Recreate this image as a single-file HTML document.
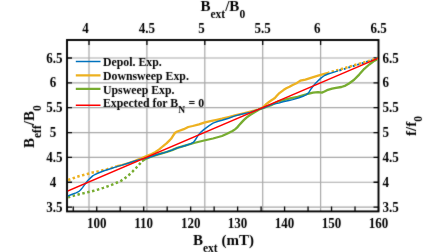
<!DOCTYPE html><html><head><meta charset="utf-8"><style>html,body{margin:0;padding:0;background:#fff;}svg{display:block;}text{font-family:"Liberation Serif", "Times New Roman", serif;font-weight:bold;fill:#000;}</style></head><body>
<svg width="448" height="252" viewBox="0 0 448 252">
<defs><filter id="bl" filterUnits="userSpaceOnUse" x="-10" y="-10" width="468" height="272" color-interpolation-filters="sRGB"><feConvolveMatrix order="3" kernelMatrix="0.03 0.1 0.03 0.1 1 0.1 0.03 0.1 0.03" edgeMode="duplicate" preserveAlpha="true"/></filter></defs>
<g filter="url(#bl)">
<rect x="-10" y="-10" width="468" height="272" fill="#fff"/>
<path d="M89.00 40.0V211.4M146.90 40.0V211.4M204.80 40.0V211.4M262.70 40.0V211.4M320.60 40.0V211.4M67.0 207.10H378.5M67.0 182.25H378.5M67.0 157.40H378.5M67.0 132.55H378.5M67.0 107.70H378.5M67.0 82.85H378.5M67.0 58.00H378.5" stroke="#a8a8a8" stroke-width="1.2" fill="none"/>
<path d="M67.0 207.10h5.0M378.5 207.10h-5.0M67.0 182.25h5.0M378.5 182.25h-5.0M67.0 157.40h5.0M378.5 157.40h-5.0M67.0 132.55h5.0M378.5 132.55h-5.0M67.0 107.70h5.0M378.5 107.70h-5.0M67.0 82.85h5.0M378.5 82.85h-5.0M67.0 58.00h5.0M378.5 58.00h-5.0M89.00 40.0v5.0M146.90 40.0v5.0M204.80 40.0v5.0M262.70 40.0v5.0M320.60 40.0v5.0M73.26 211.4v-5.0M96.74 211.4v-5.0M120.22 211.4v-5.0M143.70 211.4v-5.0M167.18 211.4v-5.0M190.66 211.4v-5.0M214.14 211.4v-5.0M237.62 211.4v-5.0M261.10 211.4v-5.0M284.58 211.4v-5.0M308.06 211.4v-5.0M331.54 211.4v-5.0M355.02 211.4v-5.0M378.50 211.4v-5.0" stroke="#000" stroke-width="1.3" fill="none"/>
<rect x="67.0" y="40.0" width="311.5" height="171.4" fill="none" stroke="#000" stroke-width="1.9"/>
<text transform="translate(85.60 32.5) scale(1 1.07)" font-size="13" text-anchor="middle">4</text>
<text transform="translate(146.90 32.5) scale(1 1.07)" font-size="13" text-anchor="middle">4.5</text>
<text transform="translate(201.40 32.5) scale(1 1.07)" font-size="13" text-anchor="middle">5</text>
<text transform="translate(262.70 32.5) scale(1 1.07)" font-size="13" text-anchor="middle">5.5</text>
<text transform="translate(317.20 32.5) scale(1 1.07)" font-size="13" text-anchor="middle">6</text>
<text transform="translate(378.50 32.5) scale(1 1.07)" font-size="13" text-anchor="middle">6.5</text>
<text transform="translate(96.74 228.4) scale(1 1.07)" font-size="13" text-anchor="middle">100</text>
<text transform="translate(143.70 228.4) scale(1 1.07)" font-size="13" text-anchor="middle">110</text>
<text transform="translate(190.66 228.4) scale(1 1.07)" font-size="13" text-anchor="middle">120</text>
<text transform="translate(237.62 228.4) scale(1 1.07)" font-size="13" text-anchor="middle">130</text>
<text transform="translate(284.58 228.4) scale(1 1.07)" font-size="13" text-anchor="middle">140</text>
<text transform="translate(331.54 228.4) scale(1 1.07)" font-size="13" text-anchor="middle">150</text>
<text transform="translate(378.50 228.4) scale(1 1.07)" font-size="13" text-anchor="middle">160</text>
<text transform="translate(62.50 211.70) scale(1 1.07)" font-size="13" text-anchor="end">3.5</text>
<text transform="translate(382.5 211.70) scale(1 1.07)" font-size="13">3.5</text>
<text transform="translate(56.30 186.85) scale(1 1.07)" font-size="13" text-anchor="end">4</text>
<text transform="translate(382.5 186.85) scale(1 1.07)" font-size="13">4</text>
<text transform="translate(62.50 162.00) scale(1 1.07)" font-size="13" text-anchor="end">4.5</text>
<text transform="translate(382.5 162.00) scale(1 1.07)" font-size="13">4.5</text>
<text transform="translate(56.30 137.15) scale(1 1.07)" font-size="13" text-anchor="end">5</text>
<text transform="translate(382.5 137.15) scale(1 1.07)" font-size="13">5</text>
<text transform="translate(62.50 112.30) scale(1 1.07)" font-size="13" text-anchor="end">5.5</text>
<text transform="translate(382.5 112.30) scale(1 1.07)" font-size="13">5.5</text>
<text transform="translate(56.30 87.45) scale(1 1.07)" font-size="13" text-anchor="end">6</text>
<text transform="translate(382.5 87.45) scale(1 1.07)" font-size="13">6</text>
<text transform="translate(62.50 62.60) scale(1 1.07)" font-size="13" text-anchor="end">6.5</text>
<text transform="translate(382.5 62.60) scale(1 1.07)" font-size="13">6.5</text>
<text x="200.5" y="11" font-size="15">B<tspan font-size="11.5" dy="6.5">ext</tspan><tspan dy="-6.5">/B</tspan><tspan font-size="11.5" dy="6.5">0</tspan></text>
<text x="193" y="245.2" font-size="15">B<tspan font-size="11.5" dy="6.5">ext</tspan><tspan dy="-6.5"> (mT)</tspan></text>
<text transform="translate(34.3 148) rotate(-90)" font-size="15">B<tspan font-size="11.5" dy="6.5">eff</tspan><tspan dy="-6.5">/B</tspan><tspan font-size="11.5" dy="6.5">0</tspan></text>
<text transform="translate(415.5 136) rotate(-90)" font-size="15">f/f<tspan font-size="11.5" dy="6.5">0</tspan></text>
<text x="103.0" y="66.10" font-size="11.8">Depol. Exp.</text>
<text x="103.0" y="79.80" font-size="11.8">Downsweep Exp.</text>
<text x="103.0" y="93.50" font-size="11.8">Upsweep Exp.</text>
<text x="103.0" y="107.20" font-size="11.8">Expected for B<tspan font-size="9.5" dy="6">N</tspan><tspan dy="-6" dx="0.6"> = 0</tspan></text>
</g>
<clipPath id="cp"><rect x="67.9" y="40.9" width="309.7" height="169.6"/></clipPath>
<g clip-path="url(#cp)" >
<polyline points="67.5,180.2 73.9,178.0 78.7,176.3 83.5,175.0 88.2,173.7 92.9,172.4 97.7,171.5 102.8,170.2 107.3,169.1 112.0,167.8 117.0,166.3" fill="none" stroke="#EDB120" stroke-width="2.5" stroke-dasharray="2.5 2.43" stroke-dashoffset="-0.5"/>
<polyline points="68.0,197.3 74.0,195.6 79.1,194.3 84.2,193.1 88.7,192.0 93.7,190.8 98.2,189.5 103.3,187.9 107.7,186.3 112.8,184.4 117.2,182.5 121.0,180.8 124.5,178.6 128.5,175.4 132.5,171.6 136.0,168.0 139.5,164.2 142.0,161.2" fill="none" stroke="#77AC30" stroke-width="2.5" stroke-dasharray="2.5 2.5" stroke-dashoffset="0.2"/>
<polyline points="338.0,70.9 378.0,58.3" fill="none" stroke="#0072BD" stroke-width="2.0" stroke-dasharray="2.3 2.4" stroke-dashoffset="-1.35"/>
<polyline points="328.3,72.8 378.0,58.3" fill="none" stroke="#EDB120" stroke-width="2.5" stroke-dasharray="2.4 2.3" stroke-dashoffset="1.2"/>
<polyline points="117.0,166.2 122.0,165.0 128.7,163.0 135.0,160.8 141.4,158.3 146.5,156.0 151.6,154.0 155.5,152.0 159.2,149.4 162.0,147.0 164.3,145.1 166.5,143.4 169.3,140.6 171.1,138.8 173.0,135.8 174.9,133.0 176.5,131.8 178.7,131.0 183.8,129.2 188.2,127.0 192.7,126.0 199.0,124.3 204.1,122.6 210.4,121.1 216.8,119.8 222.0,118.7 228.7,117.0 235.0,115.4 241.4,113.8 247.5,112.3 254.1,110.6 258.0,109.5 261.7,108.1 264.0,106.3 266.5,103.9 269.0,102.0 271.1,100.5 273.0,99.3 274.9,98.0 276.8,95.8 278.7,93.7 283.8,89.8 286.3,88.3 289.5,86.8 292.7,85.0 296.5,83.3 298.5,81.9 300.3,80.7 305.4,79.6 311.7,77.6 318.1,75.7 324.4,73.8 328.3,72.8" fill="none" stroke="#EDB120" stroke-width="2.3" stroke-linejoin="round"/>
<polyline points="142.0,161.2 145.0,159.3 149.0,157.5 154.1,155.6 161.7,153.4 166.8,152.0 172.0,150.1 177.4,147.9 185.0,145.6 193.9,143.0 204.1,140.5 213.0,138.5 222.0,136.0 227.0,133.8 232.5,131.0 235.0,129.4 237.0,127.7 239.0,125.2 241.4,122.6 244.0,119.9 246.5,117.6 250.0,115.0 254.1,112.5 259.2,109.4 264.3,107.6 268.0,106.2 272.0,104.8 278.7,101.3 288.9,98.7 297.7,96.8 305.4,94.5 310.0,93.3 313.0,92.6 318.1,92.2 321.9,92.6 324.5,91.5 327.0,90.2 332.1,88.6 336.0,87.8 341.4,87.0 345.5,85.6 349.0,83.5 354.1,79.8 359.2,74.6 364.3,68.8 369.3,64.5 373.5,61.3 377.5,59.3" fill="none" stroke="#77AC30" stroke-width="2.3" stroke-linejoin="round"/>
<polyline points="67.0,196.3 72.3,194.3 76.0,192.9 78.6,191.7 80.5,190.0 82.5,187.6 84.9,184.4 86.6,182.0 88.3,180.0 90.0,178.4 92.7,175.9 95.0,174.5 97.7,173.3 104.1,170.8 110.4,168.8 116.8,166.6 122.0,165.1 128.7,163.0 135.0,161.0 141.4,159.1 149.0,157.5 156.6,154.8 164.3,152.6 172.0,150.1 177.4,147.9 185.0,145.8 191.0,143.6 193.5,142.2 195.5,139.5 197.2,136.8 199.0,134.2 201.5,131.6 204.1,129.4 209.2,125.6 213.0,123.1 218.1,121.3 222.0,120.3 228.7,118.2 235.0,115.9 241.4,114.3 250.0,112.4 254.1,111.0 258.0,109.6 263.0,108.0 268.0,106.0 272.0,104.4 278.7,103.1 283.0,101.8 288.9,100.5 292.7,99.6 299.0,97.7 303.0,96.3 306.0,94.8 308.6,92.9 310.8,89.2 313.0,86.2 315.4,83.5 318.8,80.1 321.5,77.6 324.5,75.5 328.0,74.0 332.5,72.6 338.0,70.9" fill="none" stroke="#0072BD" stroke-width="1.45" stroke-linejoin="round"/>
<polyline points="67.0,191.4 378.5,58.0" fill="none" stroke="#FF0000" stroke-width="1.5"/>
<path d="M75.8 61.50H100.5" stroke="#0072BD" stroke-width="1.3"/>
<path d="M75.8 75.30H100.5" stroke="#EDB120" stroke-width="2.2"/>
<path d="M75.8 88.85H100.5" stroke="#77AC30" stroke-width="2.2"/>
<path d="M75.8 105.20H100.5" stroke="#FF0000" stroke-width="1.5"/>
</g>
</svg></body></html>
